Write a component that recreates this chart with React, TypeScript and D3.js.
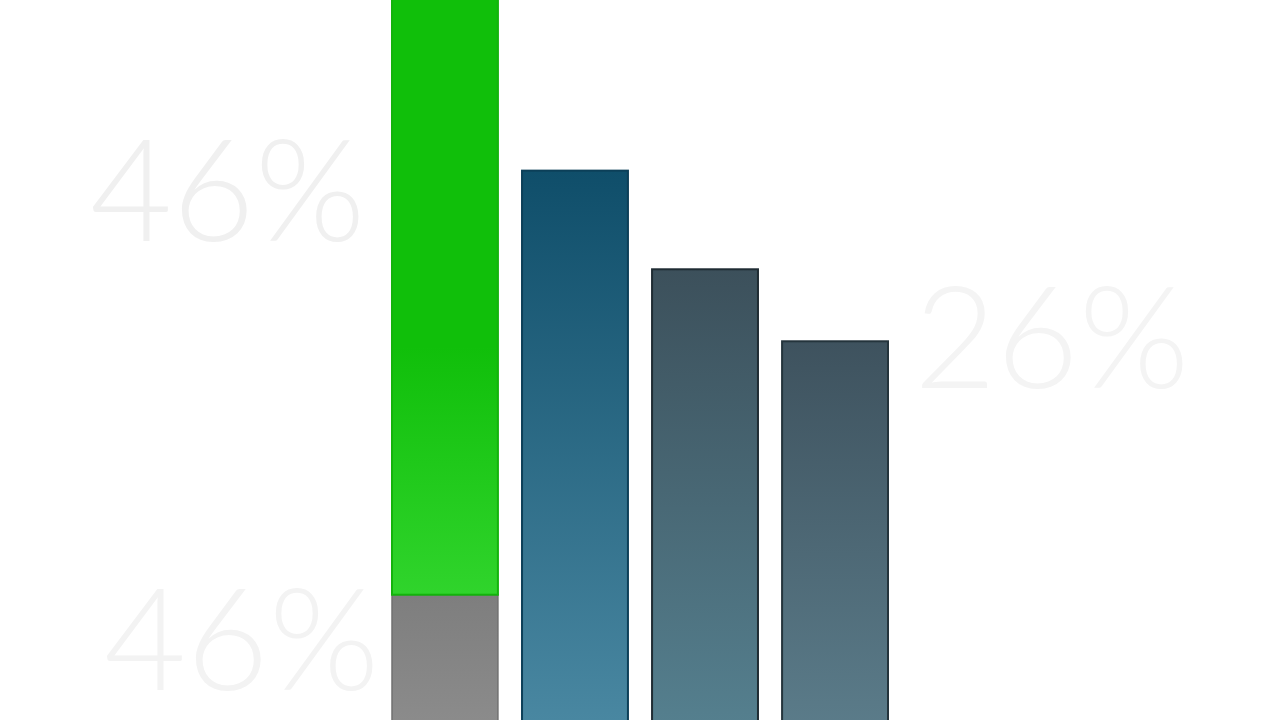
import { useEffect, useRef } from "react";
import * as d3 from "d3";

const categories = ["A", "B", "C", "D"];
// stacked base (grey) and main value per bar, in % of visible height
const baseValues = [17.4, 0, 0, 0];
const mainValues = [86, 76.3, 62.6, 52.6];

const topColors = ["#10bf0a", "#0f4e6a", "#3c505b", "#3e525e"];
const bottomColors = ["#30d42c", "#4a88a2", "#55808f", "#5b7c8a"];
const midStops = [0.6, 0, 0, 0];
const strokeColors = ["#13b30c", "#0c3f58", "#1f2c33", "#24343c"];

const ghostLabels = ["46%", "46%", "26%"];
const ghostX = [90, 104, 914];
const ghostY = [241, 690, 388];
const ghostFill = ["#f0f0f0", "#f3f3f3", "#f4f4f4"];

export default function App() {
  const svgRef = useRef<SVGSVGElement>(null);

  useEffect(() => {
    if (!svgRef.current) return;
    const width = 1280;
    const height = 720;

    const svg = d3.select(svgRef.current);
    svg.selectAll("*").remove();

    svg.append("rect").attr("width", width).attr("height", height).attr("fill", "#ffffff");

    // faint background labels
    svg
      .selectAll("text.ghost")
      .data(ghostLabels)
      .join("text")
      .attr("class", "ghost")
      .attr("x", (d, i) => ghostX[i])
      .attr("y", (d, i) => ghostY[i])
      .attr("font-family", "Lato, 'Open Sans', sans-serif")
      .attr("font-weight", 300)
      .attr("font-size", 142)
      .attr("fill", (d, i) => ghostFill[i])
      .text((d) => d);

    const x = d3
      .scaleBand()
      .domain(categories)
      .range([391, 889])
      .paddingInner(0.17)
      .paddingOuter(0);

    const y = d3.scaleLinear().domain([0, 100]).range([height, 0]);

    const defs = svg.append("defs");
    categories.forEach((c, i) => {
      const g = defs
        .append("linearGradient")
        .attr("id", `grad${i}`)
        .attr("x1", 0)
        .attr("y1", 0)
        .attr("x2", 0)
        .attr("y2", 1);
      g.append("stop").attr("offset", "0%").attr("stop-color", topColors[i]);
      if (midStops[i] > 0)
        g.append("stop").attr("offset", `${midStops[i] * 100}%`).attr("stop-color", topColors[i]);
      g.append("stop").attr("offset", "100%").attr("stop-color", bottomColors[i]);
    });
    const greyGrad = defs
      .append("linearGradient")
      .attr("id", "gradGrey")
      .attr("x1", 0)
      .attr("y1", 0)
      .attr("x2", 0)
      .attr("y2", 1);
    greyGrad.append("stop").attr("offset", "0%").attr("stop-color", "#7e7e7e");
    greyGrad.append("stop").attr("offset", "100%").attr("stop-color", "#8c8c8c");

    // grey base segments
    svg
      .selectAll("rect.base")
      .data(categories.filter((c, i) => baseValues[i] > 0))
      .join("rect")
      .attr("class", "base")
      .attr("x", (d) => x(d)! + 1)
      .attr("y", (d) => y(baseValues[categories.indexOf(d)]))
      .attr("width", x.bandwidth() - 2)
      .attr("height", (d) => height + 10 - y(baseValues[categories.indexOf(d)]))
      .attr("fill", "url(#gradGrey)")
      .attr("stroke", "#707070")
      .attr("stroke-width", 1.5);

    // main segments
    svg
      .selectAll("rect.main")
      .data(categories)
      .join("rect")
      .attr("class", "main")
      .attr("x", (d) => x(d)! + 1)
      .attr("y", (d, i) => y(baseValues[i] + mainValues[i]))
      .attr("width", x.bandwidth() - 2)
      .attr("height", (d, i) =>
        (baseValues[i] > 0 ? y(baseValues[i]) : height + 10) - y(baseValues[i] + mainValues[i])
      )
      .attr("fill", (d, i) => `url(#grad${i})`)
      .attr("stroke", (d, i) => strokeColors[i])
      .attr("stroke-width", 2);
  }, []);

  return (
    <svg
      ref={svgRef}
      width={1280}
      height={720}
      style={{ position: "fixed", top: 0, left: 0, display: "block" }}
    />
  );
}
